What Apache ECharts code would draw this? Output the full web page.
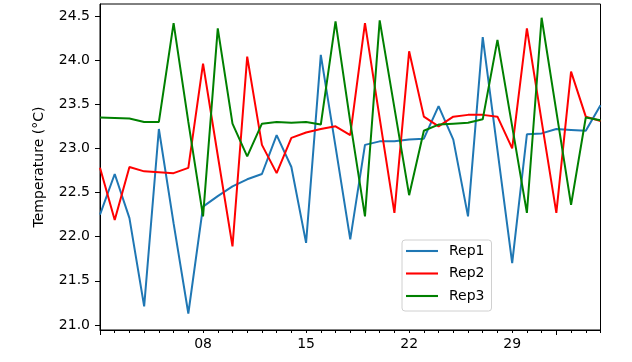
<!DOCTYPE html>
<html>
<head>
<meta charset="utf-8">
<script src="https://cdn.jsdelivr.net/npm/echarts@6/dist/echarts.min.js"></script>
<style>
html,body{margin:0;padding:0;background:#fff;}
#chart{width:632px;height:362px;}
</style>
</head>
<body>
<div id="chart"></div>
<script>
// Dates: Jan 01 .. Feb 04 (daily)
var days = ['01','02','03','04','05','06','07','08','09','10','11','12','13','14','15','16','17','18','19','20','21','22','23','24','25','26','27','28','29','30','31','01','02','03','04'];
var labeledIdx = [7, 14, 21, 28];
var majorIdx = [0, 31];
var yTicks = [21.0, 21.5, 22.0, 22.5, 23.0, 23.5, 24.0, 24.5];

var rep1 = [22.25, 22.71, 22.21, 21.21, 23.22, 22.15, 21.13, 22.34, 22.46, 22.57, 22.65, 22.71, 23.15, 22.79, 21.93, 24.06, 23.02, 21.97, 23.04, 23.08, 23.08, 23.10, 23.11, 23.48, 23.10, 22.23, 24.26, 22.98, 21.70, 23.16, 23.17, 23.22, 23.21, 23.20, 23.49];
var rep2 = [22.78, 22.19, 22.79, 22.74, 22.73, 22.72, 22.78, 23.96, 22.92, 21.89, 24.04, 23.04, 22.72, 23.12, 23.18, 23.22, 23.25, 23.15, 24.42, 23.34, 22.27, 24.10, 23.36, 23.25, 23.36, 23.38, 23.38, 23.36, 23.00, 24.36, 23.31, 22.27, 23.87, 23.36, 23.31];
var rep3 = [23.35, 23.345, 23.34, 23.30, 23.30, 24.42, 23.30, 22.23, 24.36, 23.28, 22.91, 23.28, 23.30, 23.29, 23.30, 23.27, 24.44, 23.30, 22.23, 24.45, 23.46, 22.47, 23.20, 23.27, 23.28, 23.29, 23.33, 24.23, 23.25, 22.27, 24.48, 23.42, 22.36, 23.35, 23.32];

var chart = echarts.init(document.getElementById('chart'), null, {renderer: 'canvas'});
var font = 'DejaVu Sans';
var legendIcon = 'path://M0,0L32,0L32,2.1L0,2.1Z';

chart.setOption({
  animation: false,
  backgroundColor: '#ffffff',
  textStyle: {fontFamily: font},
  grid: {
    left: 100, top: 4, width: 500.5, height: 326,
    show: true, borderColor: '#000', borderWidth: 1, backgroundColor: 'transparent'
  },
  xAxis: [{
    type: 'category',
    data: days,
    boundaryGap: false,
    axisLine: {show: true, lineStyle: {color: '#000', width: 1}},
    axisTick: {show: true, interval: 0, length: 3, lineStyle: {color: '#000', width: 1}},
    axisLabel: {
      interval: function (i) { return labeledIdx.indexOf(i) >= 0; },
      color: '#000', fontFamily: font, fontSize: 14, margin: 7
    },
    splitLine: {show: false}
  }, {
    type: 'category',
    data: days,
    boundaryGap: false,
    position: 'bottom',
    axisLine: {show: false},
    axisTick: {show: true, interval: function (i) { return majorIdx.indexOf(i) >= 0; }, length: 5, lineStyle: {color: '#000', width: 1}},
    axisLabel: {show: false},
    splitLine: {show: false}
  }],
  yAxis: {
    type: 'value',
    min: 20.943, max: 24.636,
    name: 'Temperature (°C)',
    nameLocation: 'middle',
    nameGap: 54,
    nameTextStyle: {color: '#000', fontFamily: font, fontSize: 14},
    axisLine: {show: true, lineStyle: {color: '#000', width: 1}},
    axisTick: {show: true, length: 5, customValues: yTicks, lineStyle: {color: '#000', width: 1}},
    axisLabel: {
      customValues: yTicks, color: '#000', fontFamily: font, fontSize: 14, margin: 10,
      formatter: function (v) { return v.toFixed(1); }
    },
    splitLine: {show: false}
  },
  legend: {
    orient: 'vertical',
    left: 402, top: 240,
    itemWidth: 32, itemHeight: 14, itemGap: 8.5,
    padding: [4, 7, 8, 4],
    backgroundColor: '#fff',
    borderColor: '#d0d0d0', borderWidth: 1, borderRadius: 3,
    textStyle: {color: '#000', fontFamily: font, fontSize: 14, padding: [0, 0, 0, 6]},
    data: [
      {name: 'Rep1', icon: legendIcon},
      {name: 'Rep2', icon: legendIcon},
      {name: 'Rep3', icon: legendIcon}
    ]
  },
  series: [
    {name: 'Rep1', type: 'line', data: rep1, showSymbol: false, symbol: 'none', color: '#1f77b4', lineStyle: {width: 2, color: '#1f77b4'}},
    {name: 'Rep2', type: 'line', data: rep2, showSymbol: false, symbol: 'none', color: '#ff0000', lineStyle: {width: 2, color: '#ff0000'}},
    {name: 'Rep3', type: 'line', data: rep3, showSymbol: false, symbol: 'none', color: '#008000', lineStyle: {width: 2, color: '#008000'}}
  ]
});
</script>
</body>
</html>
